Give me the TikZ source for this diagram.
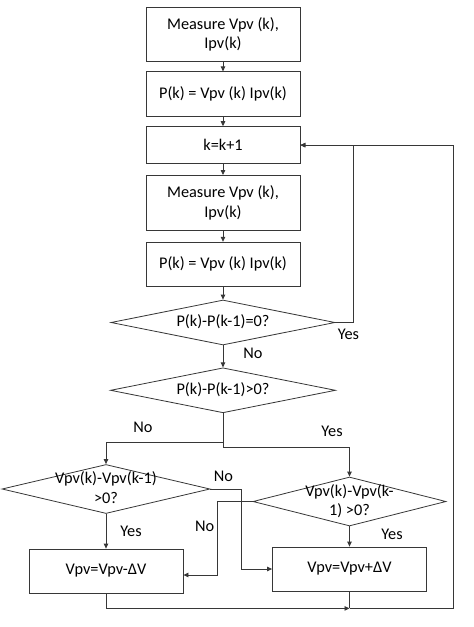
\documentclass[tikz,border=0pt]{standalone}
\usepackage{fontspec}
\setmainfont{Carlito}
\usepackage{tikz}
\usetikzlibrary{shapes.geometric, arrows.meta, positioning, calc}
\definecolor{grisTrazo}{RGB}{55,55,55}
\newcommand{\dectxt}[1]{\smash{\makebox[0pt]{\raisebox{-0.3em}{%
  \begin{tabular}{@{}c@{}}#1\end{tabular}}}}}
\tikzset{
  mp/box/.style={rectangle, draw=grisTrazo, fill=white,
    minimum width=154pt, align=center, line width=0.8pt, inner sep=2pt},
  mp/dec/.style={diamond, draw=grisTrazo, fill=white,
    inner sep=0pt, line width=0.8pt},
  mp/arr/.style={-{Triangle[length=5pt,width=4.5pt]}, line width=0.8pt,
    draw=grisTrazo},
  mp/line/.style={line width=0.8pt, draw=grisTrazo},
  mp/lbl/.style={inner sep=1pt, anchor=center}
}

\begin{document}
\begin{tikzpicture}[x=1pt, y=1pt, font=\fontsize{16.3}{19.3}\selectfont]
  \useasboundingbox (0,0) rectangle (474,-627);
  \node[mp/box, minimum height=54pt] (m1) at (223,-34) {Measure Vpv (k),\\Ipv(k)};
  \node[mp/box, minimum height=45pt, below=10pt of m1] (p1) {P(k) = Vpv (k) Ipv(k)};
  \node[mp/box, minimum height=37pt, below=9pt of p1] (kk) {k=k+1};
  \node[mp/box, minimum height=55pt, below=11pt of kk] (m2) {Measure Vpv (k),\\Ipv(k)};
  \node[mp/box, minimum height=44pt, below=11pt of m2] (p2) {P(k) = Vpv (k) Ipv(k)};
  \node[mp/dec, minimum width=224pt, minimum height=45pt, below=13pt of p2] (dz)
        {\dectxt{P(k)-P(k-1)=0?}};
  \node[mp/dec, minimum width=225pt, minimum height=45pt, below=22pt of dz] (dp)
        {\dectxt{P(k)-P(k-1)>0?}};
  \node[mp/dec, minimum width=208pt, minimum height=49pt] (dl) at (106,-489)
        {\dectxt{Vpv(k)-Vpv(k-1)\\>0?}};
  \node[mp/dec, minimum width=193pt, minimum height=49pt] (dr) at (349.5,-501.5)
        {\dectxt{Vpv(k)-Vpv(k-\\1) >0?}};
  \node[mp/box, minimum height=44pt] (vdown) at (106,-571) {Vpv=Vpv-ΔV};
  \node[mp/box, minimum height=44pt] (vup) at (349.5,-569) {Vpv=Vpv+ΔV};

  \draw[mp/arr] (m1) -- (p1);
  \draw[mp/arr] (p1) -- (kk);
  \draw[mp/arr] (kk) -- (m2);
  \draw[mp/arr] (m2) -- (p2);
  \draw[mp/arr] (p2) -- (dz);
  \draw[mp/arr] (dz) -- node[mp/lbl, xshift=30pt, yshift=3pt] (nz) {No} (dp);
  \draw[mp/arr] (dz.east) node[mp/lbl, xshift=13pt, yshift=-12pt] (yz) {Yes}
        -- ++(18,0) |- (kk.east);
  \draw[mp/arr] (dp.south) -- ++(0,-29) -| (dl.north)
        node[mp/lbl, pos=0.5, xshift=37pt, yshift=15pt] (nl) {No};
  \draw[mp/arr] (dp.south) -- ++(0,-34) -| (dr.north)
        node[mp/lbl, pos=0.5, xshift=-17.5pt, yshift=16pt] (yr) {Yes};
  \draw[mp/arr] (dl.east) node[mp/lbl, xshift=13pt, yshift=13pt] (nd) {No}
        -- ++(31,0) |- (vup.west);
  \draw[mp/arr] (dr.west) -- ++(-35,0) |- ([yshift=-4pt]vdown.east)
        node[mp/lbl, pos=0.25, xshift=-13pt, yshift=12pt] (nu) {No};
  \draw[mp/arr] (dl) -- node[mp/lbl, xshift=25pt] (yd) {Yes} (vdown);
  \draw[mp/arr] (dr) -- node[mp/lbl, xshift=42.5pt, yshift=2pt] (yu) {Yes} (vup);

  \coordinate (jn) at ($(vup.south)+(0,-17)$);
  \coordinate (rt) at ($(jn)+(103.5,0)$);
  \draw[mp/arr] (vdown.south) |- (jn);
  \draw[mp/line] (vup.south) -- (jn);
  \draw[mp/arr] (jn) -- (rt) |- (kk.east);
\end{tikzpicture}
\end{document}
